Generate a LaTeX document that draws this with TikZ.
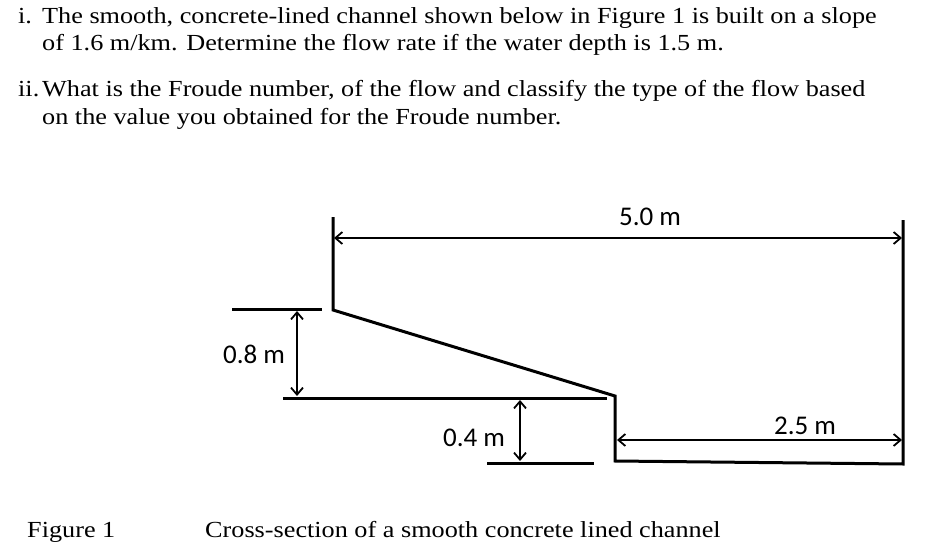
\documentclass[tikz,border=0pt]{standalone}
\usepackage{fontspec}
\usetikzlibrary{arrows.meta}
\setmainfont[FakeStretch=1.14]{Liberation Serif}
\newfontfamily\lab{Carlito}
\begin{document}
\begin{tikzpicture}[x=1pt,y=-1pt,
  txt/.style={anchor=base west,inner sep=0pt,font=\fontsize{23}{26}\selectfont},
  lbl/.style={inner sep=0pt,font=\lab\fontsize{27}{30}\selectfont},
  wall/.style={line width=3pt},
  dim/.style={line width=1.8pt,<->,>={Straight Barb[length=7pt,width=12pt]}}]
\useasboundingbox (0,0) rectangle (948,559);
\node[txt] (t1a) at (18,24) {i.};
\node[txt] (t1) at (42,24) {The smooth, concrete-lined channel shown below in Figure 1 is built on a slope};
\node[txt] (t2) at (42,51) {of 1.6 m/km. Determine the flow rate if the water depth is 1.5 m.};
\node[txt] (t3a) at (18,97) {ii.};
\node[txt] (t3) at (42,97) {What is the Froude number, of the flow and classify the type of the flow based};
\node[txt] (t4) at (42,125) {on the value you obtained for the Froude number.};
\node[txt] (c1) at (27,537) {Figure 1};
\node[txt] (c2) at (205,537) {Cross-section of a smooth concrete lined channel};
% channel
\coordinate (lt) at (333,217);
\coordinate (lb) at (333,310);
\coordinate (sb) at (615,396);
\coordinate (bl) at (615,461);
\coordinate (br) at (903,464);
\coordinate (rt) at (903,220);
\draw[wall,line join=miter] (lt) -- (lb) -- (sb) -- (bl) -- (br) -- (rt);
% reference lines
\coordinate (h1a) at (232,309); \coordinate (h1b) at (322,309);
\coordinate (h2a) at (283,398); \coordinate (h2b) at (607,398);
\coordinate (h3a) at (487,463); \coordinate (h3b) at (594,463);
\draw[wall] (h1a) -- (h1b);
\draw[wall] (h2a) -- (h2b);
\draw[wall] (h3a) -- (h3b);
% dimensions
\coordinate (d1a) at (334,238); \coordinate (d1b) at (902,238);
\draw[dim] (d1a) -- (d1b);
\coordinate (d2a) at (297,311); \coordinate (d2b) at (297,396);
\draw[dim] (d2a) -- (d2b);
\coordinate (d3a) at (520,400); \coordinate (d3b) at (520,461);
\draw[dim] (d3a) -- (d3b);
\coordinate (d4a) at (617,440); \coordinate (d4b) at (902,440);
\draw[dim] (d4a) -- (d4b);
\node[lbl] (l1) at (650,217) {5.0 m};
\node[lbl] (l2) at (254,354) {0.8 m};
\node[lbl] (l3) at (474,438) {0.4 m};
\node[lbl] (l4) at (805,426) {2.5 m};
\end{tikzpicture}
\end{document}
